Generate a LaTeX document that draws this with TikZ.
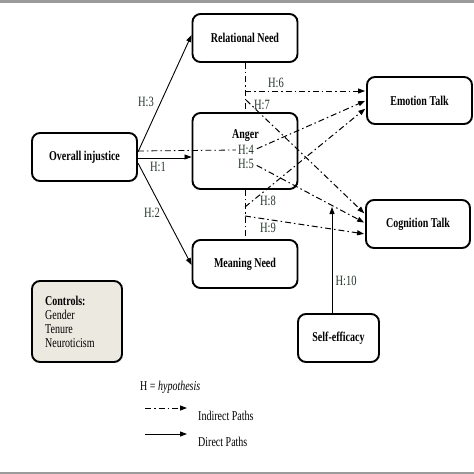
\documentclass[tikz,border=0pt]{standalone}
\usepackage{fontspec}
\setmainfont{Liberation Serif}
\usetikzlibrary{arrows.meta,calc}
\definecolor{lab}{RGB}{40,55,45}
\definecolor{ctrlfill}{RGB}{236,234,224}
\definecolor{barc}{RGB}{155,155,155}
\newcommand{\vst}[1]{\scalebox{1}[1.35]{#1}}
\tikzset{
 box/.style={draw, line width=1.9pt, rounded corners=8pt, inner sep=0pt, font=\fontsize{10}{12}\selectfont\bfseries},
 hlab/.style={inner sep=0pt, text=lab, font=\fontsize{10.5}{12}\selectfont},
 direct/.style={line width=0.9pt, -{Triangle[length=7pt,width=5pt]}},
 indirect/.style={line width=1pt, dash pattern=on 6pt off 3pt on 1.5pt off 3pt, -{Triangle[length=7pt,width=5pt]}},
 dd/.style={line width=1pt, dash pattern=on 6pt off 3pt on 1.5pt off 3pt},
 txt/.style={inner sep=0pt, font=\fontsize{10}{12}\selectfont},
}
\begin{document}
\begin{tikzpicture}[x=1pt,y=-1pt]
\useasboundingbox (0,0) rectangle (474,474);
\fill[white] (0,0) rectangle (474,474);
\fill[barc] (0,0) rectangle (474,3);
\fill[barc] (0,471.5) rectangle (474,474);

% boxes
\node[box, minimum width=105pt, minimum height=48pt] (rel) at (245,38) {\vst{Relational Need}};
\node[box, minimum width=105pt, minimum height=47pt] (emo) at (419.5,100.5) {\vst{Emotion Talk}};
\node[box, minimum width=105pt, minimum height=76pt] (anger) at (245,151) {};
\node[txt, font=\fontsize{10}{12}\selectfont\bfseries] (angert) at (245.5,136) {\vst{Anger}};
\node[hlab] (h4) at (246,150) {\vst{H:4}};
\node[hlab] (h5) at (246,164) {\vst{H:5}};
\node[box, minimum width=105pt, minimum height=48pt] (oi) at (84.5,157) {\vst{Overall injustice}};
\node[box, minimum width=105pt, minimum height=48pt] (mean) at (245,264) {\vst{Meaning Need}};
\node[box, minimum width=104pt, minimum height=48pt] (cog) at (418,224) {\vst{Cognition Talk}};
\node[box, fill=ctrlfill, minimum width=90pt, minimum height=81pt] (ctrl) at (77,321.5) {};
\node[txt, anchor=west, font=\fontsize{10}{12}\selectfont\bfseries] (c1) at (45,301) {\vst{Controls:}};
\node[txt, anchor=west] (c2) at (45,315) {\vst{Gender}};
\node[txt, anchor=west] (c3) at (45,329) {\vst{Tenure}};
\node[txt, anchor=west] (c4) at (45,343) {\vst{Neuroticism}};
\node[box, minimum width=81pt, minimum height=48pt] (self) at (338.5,338) {\vst{Self-efficacy}};

% direct paths
\draw[direct] ([yshift=5pt]oi.east) -- ([yshift=3pt]rel.west);
\draw[line width=0.7pt, double=white, double distance=1.6pt, -{Triangle[length=7pt,width=5pt]}] (oi.east) -- (oi.east -| anger.west);
\draw[direct] ([yshift=-6pt]oi.east) -- ([yshift=-1pt]mean.west);

% indirect paths
\draw[dd, line width=0.8pt] ([yshift=6pt]oi.east) -- ([xshift=-2pt]h4.west);
\draw[dd] (rel.south) -- (anger.north);
\draw[dd] (anger.south) -- (mean.north);
\coordinate (j6) at (245,91);
\coordinate (j7) at (246,100);
\coordinate (j8) at (245,207);
\coordinate (j9) at (245,216);
\draw[indirect, shorten >=1pt] (j6) -- (j6 -| emo.west);
\draw[indirect, shorten >=1pt] (j7) -- ([yshift=10pt]cog.west);
\draw[indirect, shorten >=1pt, shorten <=3pt] (h4.east) -- (emo.west);
\draw[indirect, shorten >=1pt, shorten <=3pt] (h5.east) -- ([yshift=1pt]cog.west);
\draw[indirect, shorten >=1pt] (j8) -- ([yshift=-7.5pt]emo.west);
\draw[indirect, shorten >=1pt] (j9) -- ([yshift=-10pt]cog.west);

% moderation
\coordinate (m10) at (332,207);
\draw[direct] ([xshift=-6.5pt]self.north) -- (m10);

% labels
\node[hlab] (l3) at (146,102) {\vst{H:3}};
\node[hlab] (l1) at (158,167) {\vst{H:1}};
\node[hlab] (l2) at (152,213) {\vst{H:2}};
\node[hlab] (l6) at (276,83) {\vst{H:6}};
\node[hlab] (l7) at (262,105) {\vst{H:7}};
\node[hlab] (l8) at (268,201) {\vst{H:8}};
\node[hlab] (l9) at (268,228) {\vst{H:9}};
\node[hlab] (l10) at (346,281) {\vst{H:10}};

% legend
\node[txt, anchor=west] (hyp) at (140,387) {\vst{H = \textit{hypothesis}}};
\coordinate (la1) at (145,408);
\coordinate (la2) at (187,408);
\draw[indirect] (la1) -- (la2);
\node[txt, anchor=west] (ind) at (198,416) {\vst{Indirect Paths}};
\coordinate (lb1) at (145,434);
\coordinate (lb2) at (187,434);
\draw[direct] (lb1) -- (lb2);
\node[txt, anchor=west] (dir) at (198,442) {\vst{Direct Paths}};
\end{tikzpicture}
\end{document}
